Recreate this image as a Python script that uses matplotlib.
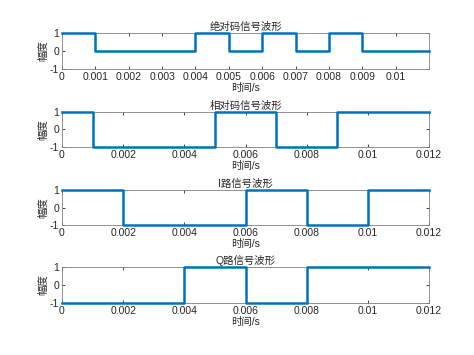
import matplotlib
matplotlib.use("Agg")
import matplotlib.pyplot as plt
import numpy as np

plt.rcParams['font.family'] = ['Liberation Sans', 'Noto Sans CJK SC']
plt.rcParams['axes.unicode_minus'] = False

titles = ['绝对码信号波形', '相对码信号波形', 'I路信号波形', 'Q路信号波形']
abs_t = [0, 0.001, 0.004, 0.005, 0.006, 0.007, 0.008, 0.009, 0.011]
abs_v = [1, 0, 1, 0, 1, 0, 1, 0, 0]
rel_t = [0, 0.001, 0.005, 0.007, 0.009, 0.012]
rel_v = [1, -1, 1, -1, 1, 1]
i_t = [0, 0.002, 0.006, 0.008, 0.010, 0.012]
i_v = [1, -1, 1, -1, 1, 1]
q_t = [0, 0.004, 0.006, 0.008, 0.012]
q_v = [-1, 1, -1, 1, 1]
xlims = [0.011, 0.012, 0.012, 0.012]
ticks_a = [0, 0.001, 0.002, 0.003, 0.004, 0.005, 0.006, 0.007, 0.008, 0.009, 0.01]
labels_a = ['0', '0.001', '0.002', '0.003', '0.004', '0.005', '0.006', '0.007', '0.008', '0.009', '0.01']
ticks_b = [0, 0.002, 0.004, 0.006, 0.008, 0.01, 0.012]
labels_b = ['0', '0.002', '0.004', '0.006', '0.008', '0.01', '0.012']
xticks = [ticks_a, ticks_b, ticks_b, ticks_b]
xticklabels = [labels_a, labels_b, labels_b, labels_b]
data = [(abs_t, abs_v), (rel_t, rel_v), (i_t, i_v), (q_t, q_v)]

fig = plt.figure(figsize=(4.74, 3.55), dpi=100)
positions = [[0.1308, 0.8056, 0.7743, 0.1014],
             [0.1308, 0.5860, 0.7743, 0.0986],
             [0.1308, 0.3660, 0.7743, 0.0986],
             [0.1308, 0.1465, 0.7743, 0.1014]]
grey = '#262626'
for k in range(4):
    ax = fig.add_axes(positions[k])
    t, v = data[k]
    ax.plot(t, v, drawstyle='steps-post', color='#0072BD', lw=1.8, clip_on=False, zorder=3)
    ax.set_xlim(0, xlims[k])
    ax.set_ylim(-1, 1)
    ax.set_yticks([-1, 0, 1])
    ax.set_yticklabels(['-1', '0', '1'])
    ax.set_xticks(xticks[k])
    ax.set_xticklabels(xticklabels[k])
    ax.tick_params(direction='in', top=True, right=True, labelsize=7.5, colors=grey,
                   length=2.5, width=0.6, pad=2)
    for s in ax.spines.values():
        s.set_color('#808080')
        s.set_linewidth(0.6)
    ax.set_title(titles[k], fontsize=7.5, color=grey, pad=2)
    ax.set_xlabel('时间/s', fontsize=7.5, color=grey, labelpad=1)
    ax.set_ylabel('幅度', fontsize=7.5, color=grey, labelpad=1)

fig.savefig('out.png', dpi=100)
